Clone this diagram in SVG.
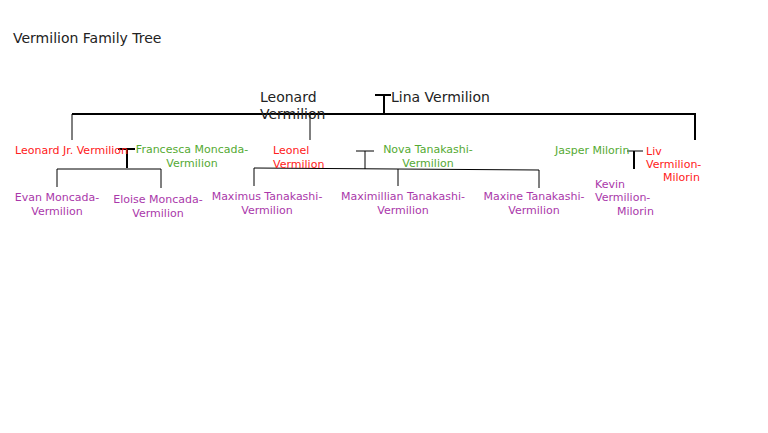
<svg xmlns="http://www.w3.org/2000/svg" width="768" height="433" viewBox="0 0 768 433">
<style>
text{font-family:"DejaVu Sans",sans-serif;font-size:11px}
.big{font-size:14px;fill:#222}
.r{fill:#ff2020}.g{fill:#55aa33}.p{fill:#aa38aa}
.c{text-anchor:middle}
line{stroke:#000;stroke-width:1}
.t{stroke-width:2}
</style>
<rect width="768" height="433" fill="#fff"/>
<text class="big" x="13" y="43">Vermilion Family Tree</text>
<g id="connectors">
<line class="t" x1="375" y1="95" x2="391" y2="95"/>
<line class="t" x1="384" y1="95" x2="384" y2="114"/>
<line class="t" x1="72" y1="114" x2="696" y2="114"/>
<line x1="72" y1="114" x2="72" y2="140"/>
<line x1="310" y1="114" x2="310" y2="140"/>
<line class="t" x1="695" y1="114" x2="695" y2="140"/>
<line class="t" x1="118" y1="149" x2="135" y2="149"/>
<line class="t" x1="127" y1="149" x2="127" y2="168"/>
<line x1="57" y1="169" x2="161" y2="169"/>
<line x1="57" y1="169" x2="57" y2="187"/>
<line x1="161" y1="169" x2="161" y2="188"/>
<line x1="356" y1="151" x2="374" y2="151"/>
<line x1="365" y1="151" x2="365" y2="169"/>
<line x1="254" y1="168" x2="539" y2="170"/>
<line x1="254" y1="168" x2="254" y2="186"/>
<line x1="398" y1="169" x2="398" y2="186"/>
<line x1="539" y1="170" x2="539" y2="188"/>
<line x1="627" y1="151" x2="643" y2="151"/>
<line class="t" x1="634" y1="151" x2="634" y2="169"/>
</g>
<g id="leonard"><text class="big" x="260" y="102">Leonard</text><text class="big" x="260" y="119">Vermilion</text></g>
<g id="lina"><text class="big" x="391" y="102">Lina Vermilion</text></g>
<g id="leonardjr"><text class="r" x="15" y="154">Leonard Jr. Vermilion</text></g>
<g id="francesca"><text class="g c" x="192" y="153">Francesca Moncada-</text><text class="g c" x="192" y="167">Vermilion</text></g>
<g id="evan"><text class="p c" x="57" y="201">Evan Moncada-</text><text class="p c" x="57" y="215">Vermilion</text></g>
<g id="eloise"><text class="p c" x="158" y="203">Eloise Moncada-</text><text class="p c" x="158" y="217">Vermilion</text></g>
<g id="leonel"><text class="r" x="273" y="154">Leonel</text><text class="r" x="273" y="168">Vermilion</text></g>
<g id="nova"><text class="g c" x="428" y="153">Nova Tanakashi-</text><text class="g c" x="428" y="167">Vermilion</text></g>
<g id="maximus"><text class="p c" x="267" y="200">Maximus Tanakashi-</text><text class="p c" x="267" y="214">Vermilion</text></g>
<g id="maximillian"><text class="p c" x="403" y="200">Maximillian Tanakashi-</text><text class="p c" x="403" y="214">Vermilion</text></g>
<g id="maxine"><text class="p c" x="534" y="200">Maxine Tanakashi-</text><text class="p c" x="534" y="214">Vermilion</text></g>
<g id="jasper"><text class="g" x="555" y="154">Jasper Milorin</text></g>
<g id="liv"><text class="r" x="646" y="155">Liv</text><text class="r" x="646" y="168">Vermilion-</text><text class="r" x="663" y="181">Milorin</text></g>
<g id="kevin"><text class="p" x="595" y="188">Kevin</text><text class="p" x="595" y="201">Vermilion-</text><text class="p" x="617" y="215">Milorin</text></g>
</svg>
